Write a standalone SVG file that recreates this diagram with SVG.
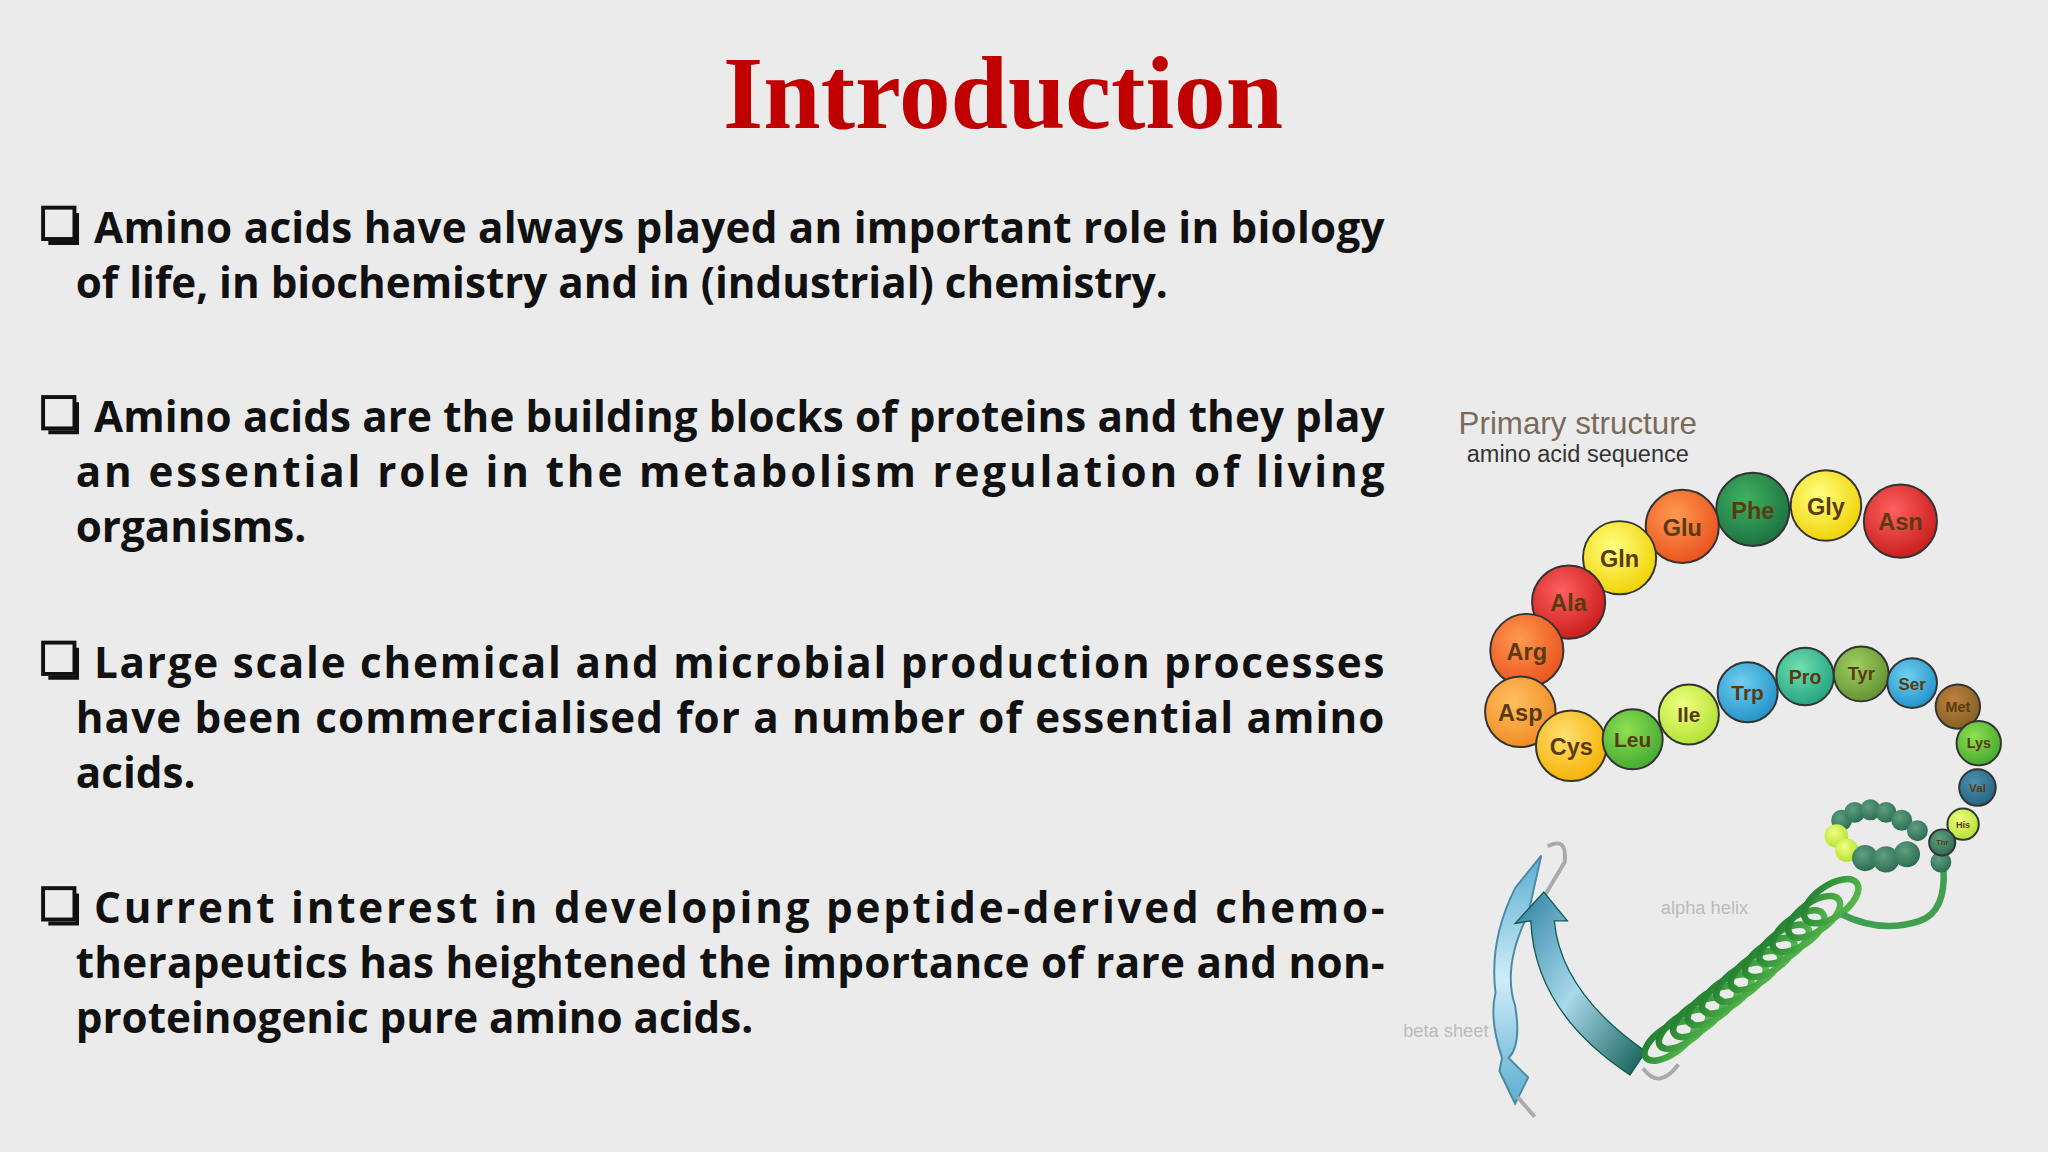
<svg xmlns="http://www.w3.org/2000/svg" width="2048" height="1152" viewBox="0 0 2048 1152">
<defs>
<style>
.b{font-family:"Open Sans","Noto Sans",sans-serif;font-weight:bold;font-size:32.3px;fill:#111}
.aa{font-family:"Liberation Sans",Arial,sans-serif;font-weight:bold;text-anchor:middle;fill:#5a3a10}
.bead{stroke:#333;stroke-width:1.5}
.lbl{font-family:"Liberation Sans",Arial,sans-serif;fill:#bbb;font-size:14px}
</style>
<radialGradient id="gRed" cx="0.4" cy="0.35" r="0.7"><stop offset="0" stop-color="#ff6060"/><stop offset="1" stop-color="#c81a1a"/></radialGradient>
<radialGradient id="gOr" cx="0.4" cy="0.35" r="0.7"><stop offset="0" stop-color="#ff9a50"/><stop offset="1" stop-color="#e8501c"/></radialGradient>
<radialGradient id="gOr2" cx="0.4" cy="0.35" r="0.7"><stop offset="0" stop-color="#ffc060"/><stop offset="1" stop-color="#f08a20"/></radialGradient>
<radialGradient id="gYel" cx="0.4" cy="0.35" r="0.7"><stop offset="0" stop-color="#ffff80"/><stop offset="1" stop-color="#f0d000"/></radialGradient>
<radialGradient id="gYO" cx="0.4" cy="0.35" r="0.7"><stop offset="0" stop-color="#ffe070"/><stop offset="1" stop-color="#f5b000"/></radialGradient>
<radialGradient id="gDG" cx="0.4" cy="0.35" r="0.7"><stop offset="0" stop-color="#40b060"/><stop offset="1" stop-color="#1a7040"/></radialGradient>
<radialGradient id="gLG" cx="0.4" cy="0.35" r="0.7"><stop offset="0" stop-color="#90e050"/><stop offset="1" stop-color="#40a830"/></radialGradient>
<radialGradient id="gYG" cx="0.4" cy="0.35" r="0.7"><stop offset="0" stop-color="#f0ff80"/><stop offset="1" stop-color="#b0e030"/></radialGradient>
<radialGradient id="gBl" cx="0.4" cy="0.35" r="0.7"><stop offset="0" stop-color="#70d0f0"/><stop offset="1" stop-color="#2090c8"/></radialGradient>
<radialGradient id="gTe" cx="0.4" cy="0.35" r="0.7"><stop offset="0" stop-color="#70e0b0"/><stop offset="1" stop-color="#20a080"/></radialGradient>
<radialGradient id="gOl" cx="0.4" cy="0.35" r="0.7"><stop offset="0" stop-color="#a0d060"/><stop offset="1" stop-color="#609030"/></radialGradient>
<radialGradient id="gBr" cx="0.4" cy="0.35" r="0.7"><stop offset="0" stop-color="#c08040"/><stop offset="1" stop-color="#806020"/></radialGradient>
<radialGradient id="gSB" cx="0.4" cy="0.35" r="0.7"><stop offset="0" stop-color="#5090b0"/><stop offset="1" stop-color="#206080"/></radialGradient>
<radialGradient id="gHx" cx="0.4" cy="0.35" r="0.7"><stop offset="0" stop-color="#60a080"/><stop offset="1" stop-color="#2a6a50"/></radialGradient>
<linearGradient id="gArr" x1="0" y1="0" x2="1" y2="1"><stop offset="0" stop-color="#2a7fa0"/><stop offset="0.5" stop-color="#a8d8ec"/><stop offset="1" stop-color="#0e5a50"/></linearGradient>
<linearGradient id="gArr2" x1="0" y1="0" x2="0" y2="1"><stop offset="0" stop-color="#5aaed0"/><stop offset="0.5" stop-color="#d0ecf8"/><stop offset="1" stop-color="#5aaed0"/></linearGradient>
<linearGradient id="gHel" x1="0" y1="1" x2="1" y2="0"><stop offset="0" stop-color="#1f7a2e"/><stop offset="1" stop-color="#5cc050"/></linearGradient>
</defs>
<rect width="2048" height="1152" fill="#ebebeb"/>
<g transform="scale(1.30612)">
<g id="title"><text x="768" y="98" text-anchor="middle" font-family="'Liberation Serif','Times New Roman',serif" font-weight="bold" font-size="79" fill="#c00000">Introduction</text></g>
<g id="bullets">
<g id="bullet1">
<rect x="33" y="159" width="24" height="24" fill="none" stroke="#111" stroke-width="3"/><path d="M59 163 V186 H37" fill="none" stroke="#111" stroke-width="3"/>
<text class="b" x="72" y="186" textLength="988" lengthAdjust="spacing">Amino acids have always played an important role in biology</text>
<text class="b" x="58" y="228">of life, in biochemistry and in (industrial) chemistry.</text>
</g>
<g id="bullet2">
<rect x="33" y="304" width="24" height="24" fill="none" stroke="#111" stroke-width="3"/><path d="M59 308 V331 H37" fill="none" stroke="#111" stroke-width="3"/>
<text class="b" x="72" y="331" textLength="988" lengthAdjust="spacing">Amino acids are the building blocks of proteins and they play</text>
<text class="b" x="58" y="373" textLength="1002" lengthAdjust="spacing">an essential role in the metabolism regulation of living</text>
<text class="b" x="58" y="415">organisms.</text>
</g>
<g id="bullet3">
<rect x="33" y="492" width="24" height="24" fill="none" stroke="#111" stroke-width="3"/><path d="M59 496 V519 H37" fill="none" stroke="#111" stroke-width="3"/>
<text class="b" x="72" y="519" textLength="988" lengthAdjust="spacing">Large scale chemical and microbial production processes</text>
<text class="b" x="58" y="561" textLength="1002" lengthAdjust="spacing">have been commercialised for a number of essential amino</text>
<text class="b" x="58" y="603">acids.</text>
</g>
<g id="bullet4">
<rect x="33" y="680" width="24" height="24" fill="none" stroke="#111" stroke-width="3"/><path d="M59 684 V707 H37" fill="none" stroke="#111" stroke-width="3"/>
<text class="b" x="72" y="707" textLength="988" lengthAdjust="spacing">Current interest in developing peptide-derived chemo-</text>
<text class="b" x="58" y="749" textLength="1002" lengthAdjust="spacing">therapeutics has heightened the importance of rare and non-</text>
<text class="b" x="58" y="791">proteinogenic pure amino acids.</text>
</g>
</g>
<g id="figure">
<text x="1208" y="332" text-anchor="middle" font-family="'Liberation Sans',Arial,sans-serif" font-size="24" fill="#7a6a5a">Primary structure</text>
<text x="1208" y="354" text-anchor="middle" font-family="'Liberation Sans',Arial,sans-serif" font-size="18" fill="#333">amino acid sequence</text>
<path d="M1185 648 Q1200 640 1198 660 L1180 690 L1175 695" fill="none" stroke="#aaa" stroke-width="3"/>
<path d="M1160 680 L1180 655 L1170 700 Q1150 740 1160 770 Q1165 800 1155 810 L1170 825 L1160 845 L1148 820 L1150 810 Q1140 780 1145 760 Q1140 720 1160 680Z" fill="url(#gArr2)" stroke="#4a8aa8" stroke-width="1.5"/>
<path d="M1162 840 L1175 855" stroke="#aaa" stroke-width="3"/>
<path d="M1182 683 L1200 705 L1190 705 Q1195 760 1260 805 L1248 823 Q1175 775 1172 705 L1160 707Z" fill="url(#gArr)" stroke="#0e5a50" stroke-width="1"/>
<path d="M1258 818 Q1270 835 1285 815" fill="none" stroke="#aaa" stroke-width="3"/>
<g fill="none" stroke="url(#gHel)" stroke-width="5">
<ellipse cx="1278" cy="797" rx="10" ry="22" transform="rotate(55 1278 797)"/>
<ellipse cx="1289" cy="788" rx="10" ry="22" transform="rotate(55 1289 788)"/>
<ellipse cx="1300" cy="779" rx="10" ry="22" transform="rotate(55 1300 779)"/>
<ellipse cx="1311" cy="770" rx="10" ry="22" transform="rotate(55 1311 770)"/>
<ellipse cx="1322" cy="761" rx="10" ry="22" transform="rotate(55 1322 761)"/>
<ellipse cx="1333" cy="752" rx="10" ry="22" transform="rotate(55 1333 752)"/>
<ellipse cx="1344" cy="743" rx="10" ry="22" transform="rotate(55 1344 743)"/>
<ellipse cx="1355" cy="733" rx="10" ry="22" transform="rotate(55 1355 733)"/>
<ellipse cx="1366" cy="723" rx="10" ry="22" transform="rotate(55 1366 723)"/>
<ellipse cx="1377" cy="713" rx="11" ry="23" transform="rotate(55 1377 713)"/>
<ellipse cx="1389" cy="702" rx="11" ry="23" transform="rotate(55 1389 702)"/>
<ellipse cx="1402" cy="690" rx="12" ry="24" transform="rotate(55 1402 690)"/>
</g>
<path d="M1410 700 Q1440 715 1470 705 Q1490 698 1488 665" fill="none" stroke="#40a050" stroke-width="5"/>
<g fill="url(#gHx)">
<circle cx="1410" cy="628" r="8"/><circle cx="1420" cy="622" r="8"/><circle cx="1432" cy="620" r="8"/><circle cx="1444" cy="622" r="8"/><circle cx="1456" cy="628" r="8"/><circle cx="1468" cy="636" r="8"/>
<circle cx="1406" cy="640" r="9" fill="url(#gYG)"/><circle cx="1414" cy="651" r="9" fill="url(#gYG)"/>
<circle cx="1428" cy="657" r="10"/><circle cx="1444" cy="658" r="10"/><circle cx="1460" cy="654" r="10"/><circle cx="1486" cy="660" r="8"/>
</g>
<text class="lbl" x="1305" y="700" text-anchor="middle">alpha helix</text>
<text class="lbl" x="1107" y="794" text-anchor="middle">beta sheet</text>
<g id="beads">
<g id="asn"><circle class="bead" cx="1455" cy="399" r="28" fill="url(#gRed)"/><text class="aa" x="1455" y="406" font-size="18" fill="#6a1010">Asn</text></g>
<g id="gly"><circle class="bead" cx="1398" cy="387" r="27" fill="url(#gYel)"/><text class="aa" x="1398" y="394" font-size="18">Gly</text></g>
<g id="phe"><circle class="bead" cx="1342" cy="390" r="28" fill="url(#gDG)"/><text class="aa" x="1342" y="397" font-size="18" fill="#103a20">Phe</text></g>
<g id="glu"><circle class="bead" cx="1288" cy="403" r="28" fill="url(#gOr)"/><text class="aa" x="1288" y="410" font-size="18">Glu</text></g>
<g id="gln"><circle class="bead" cx="1240" cy="427" r="28" fill="url(#gYel)"/><text class="aa" x="1240" y="434" font-size="18">Gln</text></g>
<g id="ala"><circle class="bead" cx="1201" cy="461" r="28" fill="url(#gRed)"/><text class="aa" x="1201" y="468" font-size="18">Ala</text></g>
<g id="arg"><circle class="bead" cx="1169" cy="498" r="28" fill="url(#gOr)"/><text class="aa" x="1169" y="505" font-size="18">Arg</text></g>
<g id="asp"><circle class="bead" cx="1164" cy="545" r="27" fill="url(#gOr2)"/><text class="aa" x="1164" y="552" font-size="18">Asp</text></g>
<g id="cys"><circle class="bead" cx="1203" cy="571" r="27" fill="url(#gYO)"/><text class="aa" x="1203" y="578" font-size="18">Cys</text></g>
<g id="leu"><circle class="bead" cx="1250" cy="566" r="23" fill="url(#gLG)"/><text class="aa" x="1250" y="572" font-size="16" fill="#204a10">Leu</text></g>
<g id="ile"><circle class="bead" cx="1293" cy="547" r="23" fill="url(#gYG)"/><text class="aa" x="1293" y="553" font-size="16">Ile</text></g>
<g id="trp"><circle class="bead" cx="1338" cy="530" r="23" fill="url(#gBl)"/><text class="aa" x="1338" y="536" font-size="16" fill="#104060">Trp</text></g>
<g id="pro"><circle class="bead" cx="1382" cy="518" r="22" fill="url(#gTe)"/><text class="aa" x="1382" y="524" font-size="15" fill="#104a40">Pro</text></g>
<g id="tyr"><circle class="bead" cx="1425" cy="516" r="21" fill="url(#gOl)"/><text class="aa" x="1425" y="521" font-size="14" fill="#203a10">Tyr</text></g>
<g id="ser"><circle class="bead" cx="1464" cy="523" r="19" fill="url(#gBl)"/><text class="aa" x="1464" y="528" font-size="13" fill="#104060">Ser</text></g>
<g id="met"><circle class="bead" cx="1499" cy="541" r="17" fill="url(#gBr)"/><text class="aa" x="1499" y="545" font-size="11" fill="#4a2a10">Met</text></g>
<g id="lys"><circle class="bead" cx="1515" cy="569" r="17" fill="url(#gLG)"/><text class="aa" x="1515" y="573" font-size="11" fill="#204a10">Lys</text></g>
<g id="val"><circle class="bead" cx="1514" cy="603" r="14" fill="url(#gSB)"/><text class="aa" x="1514" y="606" font-size="9" fill="#103040">Val</text></g>
<g id="his"><circle class="bead" cx="1503" cy="631" r="12" fill="url(#gYG)"/><text class="aa" x="1503" y="634" font-size="7">His</text></g>
<g id="thr"><circle class="bead" cx="1487" cy="645" r="10" fill="url(#gHx)"/><text class="aa" x="1487" y="647" font-size="6" fill="#103020">Thr</text></g>
</g>
</g>
</g>
</svg>
